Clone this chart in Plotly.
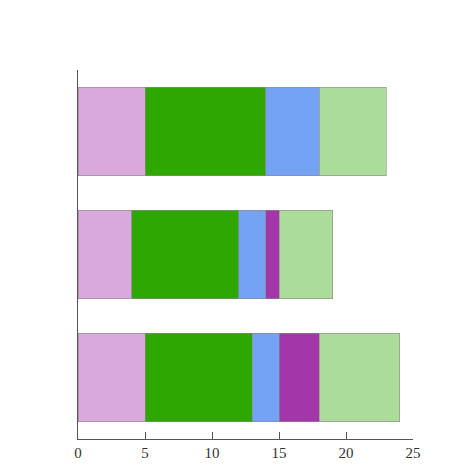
import plotly.graph_objects as go

# categories, bottom to top
categories = ["C", "B", "A"]

# segment lengths per series (stacked left to right)
pink = [5, 4, 5]
green = [8, 8, 9]
blue = [2, 2, 4]
purple = [3, 1, 0]
light_green = [6, 4, 5]

tick_vals = [0, 5, 10, 15, 20, 25]

series = [
    ("pink", pink, "#d9a9dc"),
    ("green", green, "#2ea800"),
    ("blue", blue, "#74a3f6"),
    ("purple", purple, "#a336a8"),
    ("light green", light_green, "#acdc9c"),
]

fig = go.Figure()
for name, vals, color in series:
    fig.add_trace(go.Bar(
        y=categories,
        x=vals,
        name=name,
        orientation="h",
        marker=dict(color=color, line=dict(color="#8c8c8c", width=0.6)),
        width=0.72,
    ))

# page body adds an 8px offset, margins compensate for it
fig.update_layout(
    barmode="stack",
    width=474,
    height=474,
    showlegend=False,
    plot_bgcolor="white",
    paper_bgcolor="white",
    margin=dict(l=70, r=69, t=62, b=43, autoexpand=False),
    font=dict(family="Liberation Serif", size=15, color="#333333"),
    xaxis=dict(
        range=[0, 25],
        tickvals=tick_vals,
        ticks="inside",
        ticklen=7,
        tickcolor="#555555",
        showline=True,
        linecolor="#555555",
        linewidth=1,
        showgrid=False,
        zeroline=False,
        automargin=False,
    ),
    yaxis=dict(
        range=[-0.5, 2.5],
        showticklabels=False,
        ticks="",
        showline=True,
        linecolor="#555555",
        linewidth=1,
        showgrid=False,
        zeroline=False,
        automargin=False,
    ),
)

fig.write_html("out.html")
